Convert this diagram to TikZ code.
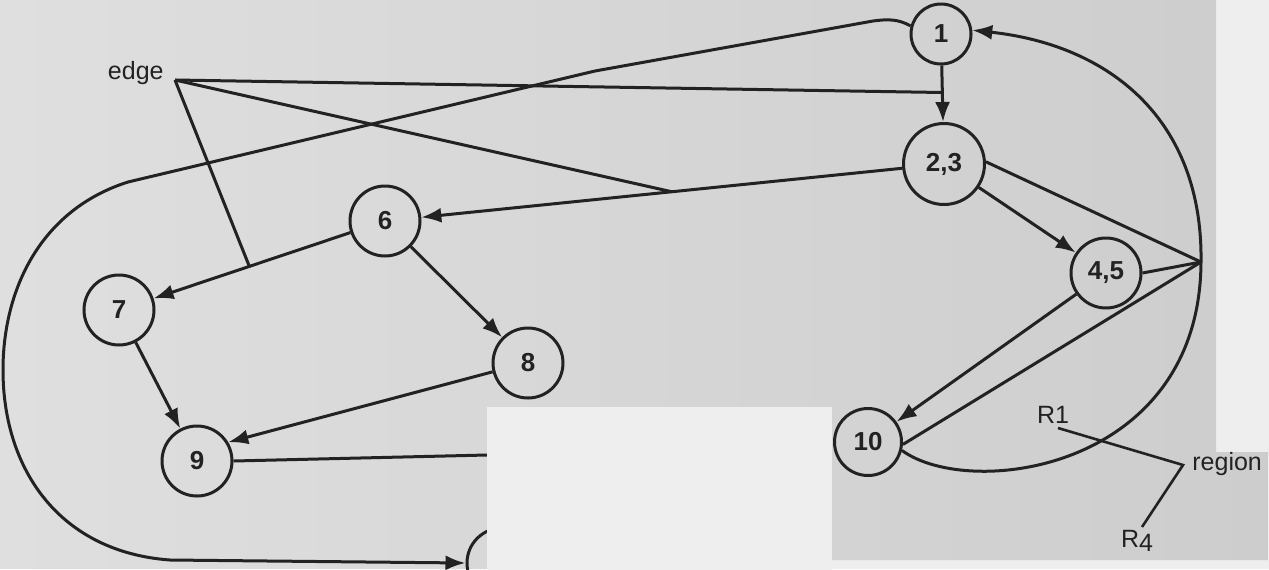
\documentclass[tikz,border=0pt]{standalone}
\usepackage{fontspec}
\setmainfont{Liberation Sans}
\usetikzlibrary{arrows.meta,calc}
\definecolor{ink}{HTML}{222222}
\definecolor{paperL}{HTML}{DFDFDF}
\definecolor{paperR}{HTML}{CDCDCD}
\definecolor{blank}{HTML}{EEEEEE}
\begin{document}
\begin{tikzpicture}[x=0.5pt,y=-0.5pt,
  vtx/.style={circle,draw=ink,line width=1.5pt,minimum size=#1,inner sep=0pt,
    font=\fontsize{13}{13}\selectfont\bfseries,text=ink},
  vtx/.default=35pt,
  conn/.style={draw=ink,line width=1.5pt},
  arr/.style={conn,-{Latex[length=10pt,width=7.5pt]}},
  lbl/.style={font=\fontsize{12.5}{12.5}\selectfont,text=ink,inner sep=0pt}]
\useasboundingbox (0,0) rectangle (1269,569);
% paper
\fill[blank] (0,0) rectangle (1269,569);
\shade[left color=paperL,right color=paperR]
  (0,0) -- (1216,0) -- (1216,452) -- (1268,452) -- (1268,560) -- (832,560)
  -- (832,407) -- (487,407) -- (487,569) -- (0,569) -- cycle;
% nodes
\node[vtx=30pt]   (n1)  at (941,34)  {1};
\node[vtx=40.5pt] (n23) at (944,164) {2,3};
\node[vtx]        (n45) at (1106,273) {4,5};
\node[vtx=33.5pt] (n10) at (868,442) {10};
\node[vtx]        (n6)  at (385,221) {6};
\node[vtx]        (n7)  at (119,310) {7};
\node[vtx]        (n8)  at (528,363) {8};
\node[vtx]        (n9)  at (197,461) {9};
\node[vtx]        (n11) at (502,563) {};
\coordinate (J) at (1201,262);
\coordinate (b9) at (487,455);
% edges
\draw[arr] (n1) -- (n23);
\draw[arr] (n23) -- (n6);
\draw[arr] (n23) -- (n45);
\draw[arr] (n45) -- (n10);
\draw[arr] (n6) -- (n7);
\draw[arr] (n6) -- (n8);
\draw[arr] (n7) -- (n9);
\draw[arr] (n8.194) -- (n9.31);
\draw[conn] (n9.east) -- (b9);
\draw[conn] (n23.3) -- (J);
\draw[conn] (n45.east) -- (J);
\draw[conn] (n10.-4) -- (J);
\draw[arr] (n10.-14) .. controls (970,500) and (1200,470) .. (J)
  .. controls (1203,120) and (1110,45) .. (n1.7);
\draw[arr] (n1.165) .. controls (898,19) and (888,19) .. (873,21) -- (595,71)
  -- (128,182) .. controls (40,210) and (3,290) .. (3,370)
  .. controls (3,470) and (60,552) .. (170,560) -- (n11.west);
% edge labels
\node[lbl,anchor=east] (edge) at (164,73) {edge};
\coordinate (E) at (175,80);
\coordinate (e1) at ($(n1)!0.45!(n23)$);
\coordinate (e2) at ($(n23)!0.487!(n6)$);
\coordinate (e3) at ($(n6)!0.51!(n7)$);
\draw[conn] (E) -- (e1);
\draw[conn] (E) -- (e2);
\draw[conn] (E) -- (e3);
% region labels
\node[lbl] (r1) at (1053,415) {R1};
\node[lbl,anchor=west] (reg) at (1192,464) {region};
\node[lbl] (r4) at (1137,541) {R\raisebox{-0.35ex}{4}};
\coordinate (K) at (1183,465);
\draw[conn,line width=1.3pt] (1058,428) -- (K) -- (1142,527);
% blank overlay
\fill[blank] (487,407) rectangle (831.5,620);
\end{tikzpicture}
\end{document}
